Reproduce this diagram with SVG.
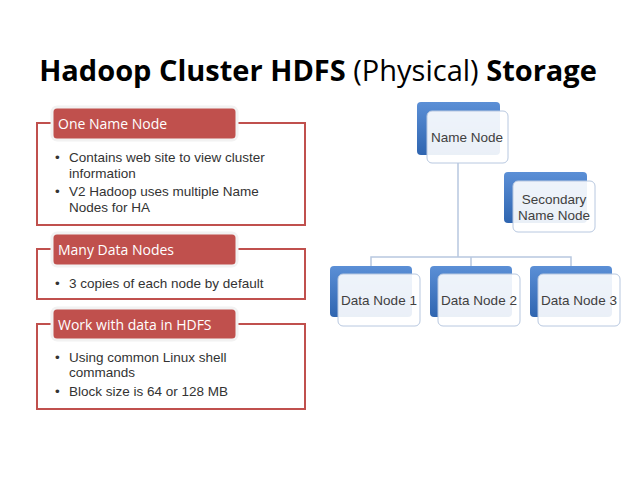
<svg xmlns="http://www.w3.org/2000/svg" width="638" height="478" viewBox="0 0 638 478">
<defs>
<linearGradient id="bl" x1="0" y1="0" x2="0" y2="1"><stop offset="0" stop-color="#5b8fd6"/><stop offset="1" stop-color="#2f65b0"/></linearGradient>
</defs>
<style>
text{font-family:"Open Sans","Liberation Sans",sans-serif}
.frame{fill:#fff;stroke:#c0504d;stroke-width:2}
.hdr{fill:#c0504d;stroke:#f2f2f2;stroke-width:3}
.ht{fill:#fff;font-size:14px}
.bt{fill:#333;font-size:13.5px;font-family:"Liberation Sans",sans-serif}
.bk{fill:url(#bl)}
.fr{fill:#fff;fill-opacity:0.9;stroke:#b8c8e0;stroke-width:1}
.nt{fill:#404040;font-size:13.5px;text-anchor:middle;font-family:"Liberation Sans",sans-serif}
.cn{fill:none;stroke:#b8c8e0;stroke-width:1.5}
</style>
<rect width="638" height="478" fill="#fff"/>
<text x="318" y="81" text-anchor="middle" font-size="29" fill="#000"><tspan font-weight="bold">Hadoop Cluster HDFS</tspan> (Physical) <tspan font-weight="bold">Storage</tspan></text>
<g id="box1">
<rect class="frame" x="37" y="123" width="268" height="102"/>
<rect class="hdr" x="52" y="107" width="185" height="33" rx="5"/>
<text class="ht" x="58" y="129">One Name Node</text>
<text class="bt" x="55" y="162">•</text><text class="bt" x="69" y="162">Contains web site to view cluster</text>
<text class="bt" x="69" y="178">information</text>
<text class="bt" x="55" y="196">•</text><text class="bt" x="69" y="196">V2 Hadoop uses multiple Name</text>
<text class="bt" x="69" y="212">Nodes for HA</text>
</g>
<g id="box2">
<rect class="frame" x="37" y="249" width="268" height="50"/>
<rect class="hdr" x="52" y="233" width="185" height="33" rx="5"/>
<text class="ht" x="58" y="255">Many Data Nodes</text>
<text class="bt" x="55" y="288">•</text><text class="bt" x="69" y="288">3 copies of each node by default</text>
</g>
<g id="box3">
<rect class="frame" x="37" y="324" width="268" height="85"/>
<rect class="hdr" x="52" y="308" width="185" height="32" rx="5"/>
<text class="ht" x="58" y="330">Work with data in HDFS</text>
<text class="bt" x="55" y="362">•</text><text class="bt" x="69" y="362">Using common Linux shell</text>
<text class="bt" x="69" y="377">commands</text>
<text class="bt" x="55" y="396">•</text><text class="bt" x="69" y="396">Block size is 64 or 128 MB</text>
</g>
<g id="connectors">
<path class="cn" d="M458 163V257M371 266V257H571V266M471 257V266"/>
</g>
<g id="namenode">
<rect class="bk" x="417" y="102" width="83" height="53" rx="4"/>
<rect class="fr" x="427" y="111" width="81" height="52" rx="5"/>
<text class="nt" x="467" y="142">Name Node</text>
</g>
<g id="secondary">
<rect class="bk" x="504" y="172" width="83" height="51" rx="4"/>
<rect class="fr" x="513" y="181" width="82" height="51" rx="5"/>
<text class="nt" x="554" y="204">Secondary</text>
<text class="nt" x="554" y="220">Name Node</text>
</g>
<g id="dn1">
<rect class="bk" x="330" y="266" width="82" height="51" rx="4"/>
<rect class="fr" x="338" y="274" width="82" height="52" rx="5"/>
<text class="nt" x="379" y="305">Data Node 1</text>
</g>
<g id="dn2">
<rect class="bk" x="430" y="266" width="82" height="51" rx="4"/>
<rect class="fr" x="438" y="274" width="82" height="52" rx="5"/>
<text class="nt" x="479" y="305">Data Node 2</text>
</g>
<g id="dn3">
<rect class="bk" x="530" y="266" width="82" height="51" rx="4"/>
<rect class="fr" x="538" y="274" width="82" height="52" rx="5"/>
<text class="nt" x="579" y="305">Data Node 3</text>
</g>
</svg>
